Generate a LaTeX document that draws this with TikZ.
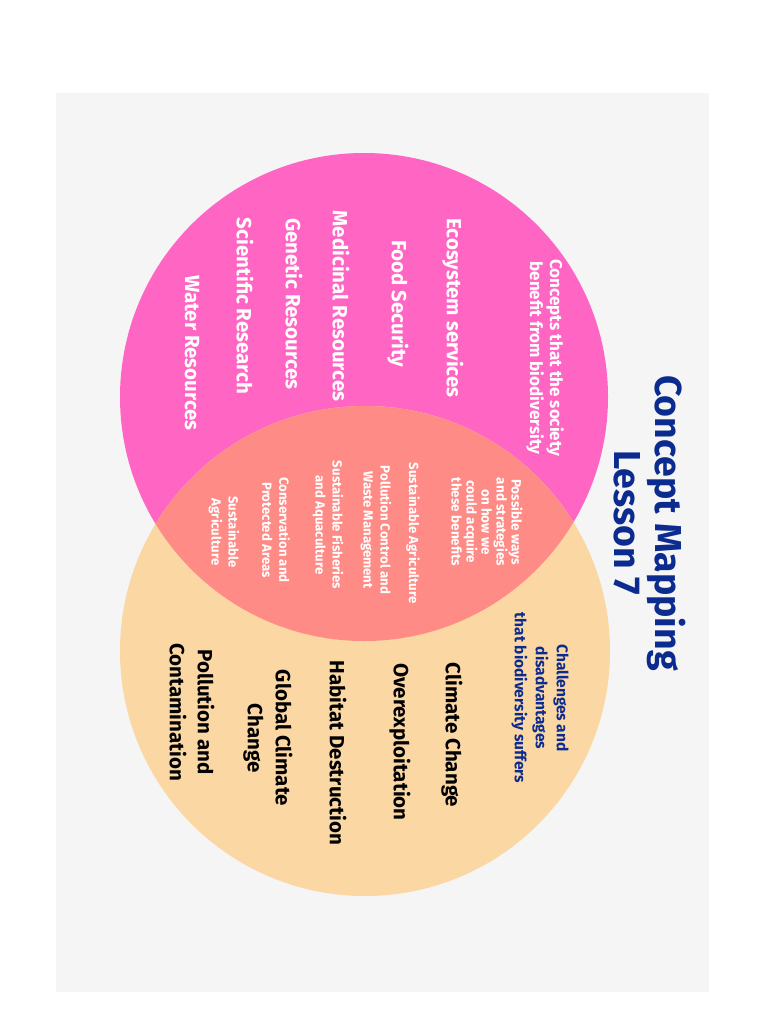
\documentclass[tikz,border=0pt]{standalone}
\usepackage{fontspec}
\setmainfont{Fira Sans}
\definecolor{bggray}{HTML}{F5F5F5}
\definecolor{venpink}{HTML}{FF66C4}
\definecolor{venpeach}{HTML}{FAD7A3}
\definecolor{vensalmon}{HTML}{FF8B87}
\definecolor{titleblue}{HTML}{0B2B8F}
\begin{document}
\begin{tikzpicture}[x=1pt,y=-1pt,
    pinkitem/.style={rotate=-90,text=white,font=\bfseries\fontsize{20.5}{24}\selectfont},
    midhead/.style={rotate=-90,text=white,align=center,font=\bfseries\fontsize{13.5}{15}\selectfont},
    miditem/.style={rotate=-90,text=white,align=center,font=\bfseries\fontsize{13.2}{17}\selectfont},
    peachitem/.style={rotate=-90,text=black,align=center,font=\bfseries\fontsize{20.5}{28}\selectfont}]
    % 背景
    \useasboundingbox (0,0) rectangle (768,1024);
    \fill[white] (0,0) rectangle (768,1024);
    \fill[bggray] (56,93) rectangle (709,992);

    % 两个圆及其交集
    \coordinate (P) at (364,397);
    \coordinate (Q) at (365,651);
    \fill[venpink] (P) circle (244pt);
    \fill[venpeach] (Q) circle (245pt);
    \begin{scope}
        \clip (P) circle (244pt);
        \fill[vensalmon] (Q) circle (245pt);
    \end{scope}

    % 标题
    \node[rotate=-90,text=titleblue,align=center,font=\bfseries\fontsize{37.5}{41}\selectfont] (title) at (650,523) {Concept Mapping\\Lesson 7};

    % 粉色圆：社会从生物多样性中获得的好处
    \node[rotate=-90,text=white,align=center,font=\bfseries\fontsize{17}{20}\selectfont] (benefit) at (545,358) {Concepts that the society\\benefit from biodiversity};
    \node[pinkitem] (eco) at (453,308) {Ecosystem services};
    \node[pinkitem] (food) at (398,304) {Food Security};
    \node[pinkitem] (medicinal) at (341,306) {Medicinal Resources};
    \node[pinkitem] (genetic) at (294,304) {Genetic Resources};
    \node[pinkitem] (scientific) at (245,306) {Scientific Research};
    \node[pinkitem] (water) at (192,353) {Water Resources};

    % 交集：可能的方法和策略
    \node[midhead] (ways) at (487,522) {Possible ways\\and strategies\\on how we\\could acquire\\these benefits};
    \node[miditem] (agri) at (413,533) {Sustainable Agriculture};
    \node[miditem] (pollctrl) at (376,530) {Pollution Control and\\Waste Management};
    \node[miditem] (fish) at (328,525) {Sustainable Fisheries\\and Aquaculture};
    \node[miditem] (conserve) at (276,530) {Conservation and\\Protected Areas};
    \node[miditem] (agri2) at (224,532) {Sustainable\\Agriculture};

    % 橙色圆：生物多样性面临的挑战
    \node[rotate=-90,text=titleblue,align=center,font=\bfseries\fontsize{15.5}{21}\selectfont] (challenge) at (540,698) {Challenges and\\disadvantages\\that biodiversity suffers};
    \node[peachitem] (climate) at (452,735) {Climate Change};
    \node[peachitem] (overexp) at (400,742) {Overexploitation};
    \node[peachitem] (habitat) at (338,753) {Habitat Destruction};
    \node[peachitem] (global) at (268,738) {Global Climate\\Change};
    \node[peachitem] (pollution) at (192,712) {Pollution and\\Contamination};
\end{tikzpicture}
\end{document}
